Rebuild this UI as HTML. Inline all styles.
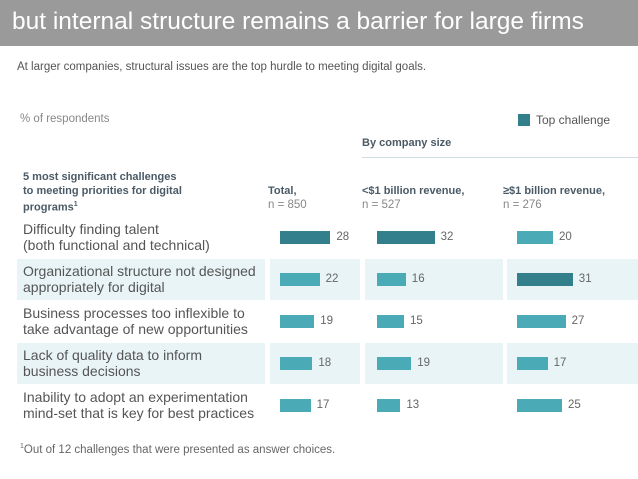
<!DOCTYPE html>
<html><head><meta charset="utf-8"><style>
body{margin:0;width:638px;height:479px;background:#fff;font-family:"Liberation Sans",sans-serif;position:relative;overflow:hidden}
.a{position:absolute;white-space:nowrap}
.bg{position:absolute;background:#e9f4f7}
.lbl{position:absolute;left:23px;font-size:14px;color:#555;line-height:16px;white-space:nowrap}
.hd{position:absolute;font-size:11px;font-weight:bold;color:#4a5a66;line-height:14px;white-space:nowrap}
.n{font-weight:normal;color:#888;font-size:11.5px}
.v{position:absolute;font-size:11.5px;color:#666}
.bar{position:absolute;height:13px}
</style></head><body>
<div class="a" style="left:0;top:0;width:638px;height:46px;background:#9a9a9a"></div>
<div class="a" style="left:12px;top:8px;font-size:24.5px;color:#fff">but internal structure remains a barrier for large firms</div>
<div class="a" style="left:17px;top:61px;font-size:11.5px;color:#555">At larger companies, structural issues are the top hurdle to meeting digital goals.</div>
<div class="a" style="left:20px;top:113px;font-size:11.5px;color:#888">% of respondents</div>
<div class="a" style="left:518px;top:114px;width:12px;height:12px;background:#337f8c"></div>
<div class="a" style="left:536px;top:113px;font-size:12px;color:#555">Top challenge</div>
<div class="a" style="left:362px;top:137px;font-size:11px;font-weight:bold;color:#4a5a66">By company size</div>
<div class="a" style="left:362px;top:157px;width:276px;height:1px;background:#cfdde2"></div>
<div class="hd" style="left:23px;top:170px">5 most significant challenges<br>to meeting priorities for digital<br>programs<sup style="font-size:7px">1</sup></div>
<div class="hd" style="left:268px;top:184px">Total,<br><span class="n">n = 850</span></div>
<div class="hd" style="left:362px;top:184px">&lt;$1 billion revenue,<br><span class="n">n = 527</span></div>
<div class="hd" style="left:503px;top:184px">≥$1 billion revenue,<br><span class="n">n = 276</span></div>
<div id="rows"></div>
<div class="a" style="left:20px;top:443px;font-size:11.5px;color:#666"><sup style="font-size:7px">1</sup>Out of 12 challenges that were presented as answer choices.</div>
<script>
const categories=["Difficulty finding talent<br>(both functional and technical)","Organizational structure not designed<br>appropriately for digital","Business processes too inflexible to<br>take advantage of new opportunities","Lack of quality data to inform<br>business decisions","Inability to adopt an experimentation<br>mind-set that is key for best practices"];
const totalValues=[28,22,19,18,17];
const smallValues=[32,16,15,19,13];
const largeValues=[20,31,27,17,25];
const cols=[{vals:totalValues,x0:280,name:'total'},{vals:smallValues,x0:377,name:'small'},{vals:largeValues,x0:517,name:'large'}];
const scale=1.8;
const root=document.getElementById('rows');
const rowTop=i=>217+i*42;
categories.forEach((c,i)=>{
  const y=rowTop(i);
  if(i%2===1){
    [[17,248],[270,90],[365,138],[507,131]].forEach(([x,w])=>{
      const b=document.createElement('div');b.className='bg';
      
      
      b.style.cssText=`left:${x}px;top:${y}px;width:${w}px;height:41px`;root.appendChild(b);});
  }
  const l=document.createElement('div');l.className='lbl';l.innerHTML=c;
  
  
  l.style.top=(y+4)+'px';root.appendChild(l);
  cols.forEach(col=>{
    const v=col.vals[i];
    const top=Math.max(...col.vals)===v;
    const b=document.createElement('div');b.className='bar';
    
    
    b.style.cssText=`left:${col.x0}px;top:${y+14}px;width:${v*scale}px;background:${top?'#337f8c':'#4aaab5'}`;
    root.appendChild(b);
    const t=document.createElement('div');t.className='v';t.textContent=v;
    
    
    t.style.cssText=`left:${col.x0+v*scale+6}px;top:${y+14}px`;root.appendChild(t);
  });
});
</script>
</body></html>
